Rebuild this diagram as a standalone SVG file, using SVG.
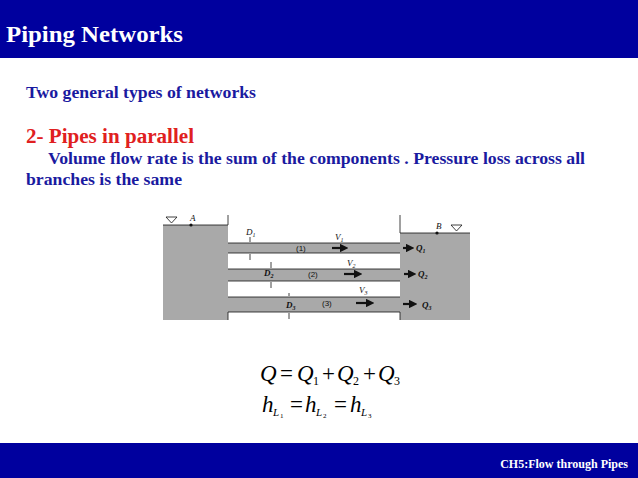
<svg xmlns="http://www.w3.org/2000/svg" width="638" height="478" viewBox="0 0 638 478">
<style>
.b{font-family:"Liberation Serif",serif;font-weight:bold}
.fl{font-family:"Liberation Serif",serif;font-style:italic;font-size:9px;fill:#111}
.sm{font-family:"Liberation Sans",sans-serif;font-size:8px;fill:#111}
.eq{font-family:"Liberation Serif",serif;font-style:italic;font-size:23px;fill:#000}
.en{font-style:normal}
.sb{font-style:normal;font-size:12px}
.tk{stroke:#111;stroke-width:0.8;fill:none}
.ar{stroke:#111;stroke-width:2.2;marker-end:url(#ah)}
</style>
<defs><marker id="ah" markerWidth="4" markerHeight="4" refX="2" refY="2" orient="auto" markerUnits="strokeWidth"><path d="M0,0L4,2L0,4Z" fill="#111"/></marker></defs>
<rect width="638" height="478" fill="#fff"/>
<rect x="0" y="0" width="638" height="58" fill="#00009e"/>
<text x="6" y="42" class="b" font-size="24" fill="#fff" textLength="177" lengthAdjust="spacingAndGlyphs">Piping Networks</text>
<rect x="0" y="443" width="638" height="35" fill="#00009e"/>
<text x="628" y="468" class="b" font-size="12" fill="#fff" text-anchor="end">CH5:Flow through Pipes</text>
<text x="26" y="98" class="b" font-size="16" fill="#1a1aa0" textLength="230" lengthAdjust="spacingAndGlyphs">Two general types of networks</text>
<text x="26" y="143" class="b" font-size="20" fill="#e02020" textLength="168" lengthAdjust="spacingAndGlyphs">2- Pipes in parallel</text>
<text x="48" y="164" class="b" font-size="16" fill="#1a1aa0" textLength="537" lengthAdjust="spacingAndGlyphs">Volume flow rate is the sum of the components . Pressure loss across all</text>
<text x="26" y="185" class="b" font-size="16" fill="#1a1aa0" textLength="156" lengthAdjust="spacingAndGlyphs">branches is the same</text>
<g id="figure">
<path d="M163,225H228V243H400V233H470V320H400V312H228V320H163Z" fill="#a9a9a9"/>
<rect x="228" y="253" width="172" height="16" fill="#fff"/>
<rect x="228" y="281" width="172" height="16" fill="#fff"/>
<path d="M163,225H228V215M228,243H400M400,215V233H470M228,253H400M228,269H400M228,281H400M228,297H400M228,312H400M228,312V320M400,312V320" class="tk"/>
<path d="M166,217h11l-5.5,6z" fill="none" stroke="#111" stroke-width="0.8"/>
<path d="M451,225h11l-5.5,6z" fill="none" stroke="#111" stroke-width="0.8"/>
<circle cx="191" cy="225" r="1.6" fill="#111"/><text x="190" y="221" class="fl">A</text>
<circle cx="437" cy="233" r="1.6" fill="#111"/><text x="436" y="229" class="fl">B</text>
<text x="246" y="235" class="fl">D<tspan font-size="6" dy="2">1</tspan></text>
<path d="M250,237v5M250,254v6M271,262v6M271,282v6M289,293v3M289,313v6" class="tk"/>
<text x="264" y="276" class="fl" font-weight="bold">D<tspan font-size="6" dy="2">2</tspan></text>
<text x="286" y="308" class="fl" font-weight="bold">D<tspan font-size="6" dy="2">3</tspan></text>
<text x="335" y="240" class="fl">V<tspan font-size="6" dy="2">1</tspan></text>
<text x="347" y="266" class="fl">V<tspan font-size="6" dy="2">2</tspan></text>
<text x="359" y="293" class="fl">V<tspan font-size="6" dy="2">3</tspan></text>
<text x="296" y="251" class="sm">(1)</text>
<text x="308" y="277" class="sm">(2)</text>
<text x="322" y="306" class="sm">(3)</text>
<path d="M332,248h12" class="ar"/>
<path d="M344,274h14" class="ar"/>
<path d="M356,303h14" class="ar"/>
<path d="M403,248h7" class="ar"/>
<path d="M404,274h8" class="ar"/>
<path d="M403,304h10" class="ar"/>
<text x="416" y="251" class="fl" font-weight="bold">Q<tspan font-size="6" dy="2">1</tspan></text>
<text x="418" y="277" class="fl" font-weight="bold">Q<tspan font-size="6" dy="2">2</tspan></text>
<text x="422" y="308" class="fl" font-weight="bold">Q<tspan font-size="6" dy="2">3</tspan></text>
</g>
<g id="equations">
<text y="381" class="eq"><tspan x="260">Q</tspan><tspan x="280" class="en">=</tspan><tspan x="297">Q</tspan><tspan x="313" y="385" class="sb">1</tspan><tspan x="322" y="381" class="en">+</tspan><tspan x="337">Q</tspan><tspan x="353" y="385" class="sb">2</tspan><tspan x="363" y="381" class="en">+</tspan><tspan x="378">Q</tspan><tspan x="394" y="385" class="sb">3</tspan></text>
<text y="412" class="eq"><tspan x="262">h</tspan><tspan x="273" y="416" font-size="11">L</tspan><tspan x="280" y="418" font-size="7" font-style="normal">1</tspan><tspan x="290" y="412" class="en">=</tspan><tspan x="305">h</tspan><tspan x="316" y="416" font-size="11">L</tspan><tspan x="323" y="418" font-size="7" font-style="normal">2</tspan><tspan x="334" y="412" class="en">=</tspan><tspan x="350">h</tspan><tspan x="361" y="416" font-size="11">L</tspan><tspan x="368" y="418" font-size="7" font-style="normal">3</tspan></text>
</g>
</svg>
